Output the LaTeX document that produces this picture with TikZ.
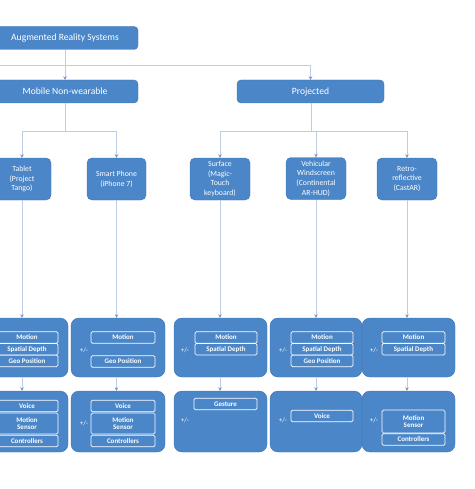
\documentclass[tikz,border=0pt]{standalone}
\usepackage{fontspec}
\setmainfont{Carlito}
\usetikzlibrary{arrows.meta}
\definecolor{nodefill}{HTML}{4A86C8}
\definecolor{nodeedge}{HTML}{3F74AE}
\definecolor{linec}{HTML}{BCCDE4}
\definecolor{tipc}{HTML}{7895BD}
\tikzset{
  hdr/.style={draw=nodeedge, fill=nodefill, rounded corners=4pt, text=white, font=\fontsize{9.6}{11}\selectfont, minimum height=23pt, inner sep=0pt},
  kid/.style={draw=nodeedge, fill=nodefill, rounded corners=5pt, text=white, font=\fontsize{7.8}{9.7}\selectfont, align=center, minimum height=42pt, inner sep=0pt},
  bigbox/.style={draw=nodeedge, fill=nodefill, rounded corners=8pt, minimum width=93pt, inner sep=0pt},
  ib/.style={draw=white, line width=0.7pt, rounded corners=1.5pt, text=white, font=\bfseries\fontsize{7}{7.6}\selectfont, align=center, minimum width=63pt, minimum height=11.6pt, inner sep=0pt},
  pm/.style={text=white, font=\fontsize{6.8}{7}\selectfont, inner sep=0pt},
  ln/.style={draw=linec, line width=0.8pt},
  arr/.style={ln, -{Stealth[length=3.5pt, width=3.5pt, color=tipc]}},
}
\begin{document}
\begin{tikzpicture}[x=1pt, y=-1pt]
\useasboundingbox (0,0) rectangle (474,489);
\clip (0,0) rectangle (474,489);
% level 0 / 1
\node[hdr, minimum width=146pt] (ars) at (65,38) {Augmented Reality Systems};
\node[hdr, minimum width=146pt] (mnw) at (65,91.5) {Mobile Non-wearable};
\node[hdr, minimum width=147pt] (proj) at (310.5,91.5) {Projected};
% level 2
\node[kid, minimum width=58pt] (tab) at (22,179) {Tablet\\(Project\\Tango)};
\node[kid, minimum width=59pt] (sp) at (116.5,179) {Smart Phone\\(iPhone 7)};
\node[kid, minimum width=60pt] (surf) at (220,179) {Surface\\(Magic-\\Touch\\keyboard)};
\node[kid, minimum width=60pt] (veh) at (316,178.5) {Vehicular\\Windscreen\\(Continental\\AR-HUD)};
\node[kid, minimum width=60pt] (retro) at (407,179) {Retro-\\reflective\\(CastAR)};
% connectors top
\coordinate (j0) at (0,65);
\coordinate (j1) at (ars.south |- j0);
\draw[ln] (ars.south) -- (j1);
\draw[arr] (j1) -- (mnw.north);
\draw[ln] (j0) -- (j1);
\draw[arr] (j1) -| (proj.north);
\coordinate (m1) at (65,131);
\draw[ln] (mnw.south) -- (m1);
\draw[arr] (m1) -| (tab.north);
\draw[arr] (m1) -| (sp.north);
\coordinate (p1) at (311,131);
\coordinate (p2) at (316,131);
\draw[ln] (proj.south -| p1) -- (p1);
\draw[arr] (p1) -| (surf.north);
\draw[arr] (p1) -| (retro.north);
\draw[arr] (p2) -- (veh.north);
% row 2 boxes
\node[bigbox, minimum height=59pt] (r2a) at (21.5,347.5) {};
\node[bigbox, minimum height=59pt, minimum width=94pt] (r2b) at (118,347.5) {};
\node[bigbox, minimum height=59pt] (r2c) at (220.5,347.5) {};
\node[bigbox, minimum height=59pt, minimum width=92pt] (r2d) at (316,347.5) {};
\node[bigbox, minimum height=59pt] (r2e) at (408.5,347.5) {};
% row 3 boxes
\node[bigbox, minimum height=61pt] (r3a) at (21.5,421.5) {};
\node[bigbox, minimum height=61pt, minimum width=94pt] (r3b) at (118,421.5) {};
\node[bigbox, minimum height=61pt] (r3c) at (220.5,421.5) {};
\node[bigbox, minimum height=61pt, minimum width=92pt] (r3d) at (316,421.5) {};
\node[bigbox, minimum height=61pt] (r3e) at (408.5,421.5) {};
% arrows level2 -> row2
\draw[arr] (tab.south) -- (tab.south |- r2a.north);
\draw[arr] (sp.south) -- (sp.south |- r2b.north);
\draw[arr] (surf.south) -- (surf.south |- r2c.north);
\draw[arr] (veh.south) -- (veh.south |- r2d.north);
\draw[arr] (retro.south) -- (retro.south |- r2e.north);
% arrows row2 -> row3
\draw[arr] (r2a.south -| tab.south) -- (r3a.north -| tab.south);
\draw[arr] (r2b.south -| sp.south) -- (r3b.north -| sp.south);
\draw[arr] (r2c.south -| surf.south) -- (r3c.north -| surf.south);
\draw[arr] (r2d.south -| veh.south) -- (r3d.north -| veh.south);
\draw[arr] (r2e.south -| retro.south) -- (r3e.north -| retro.south);
% row 2 contents
\node[ib, minimum width=62pt] (a1) at (27,337.5) {Motion};
\node[ib, minimum width=62pt] (a2) at (27,349.2) {Spatial Depth};
\node[ib, minimum width=62pt] (a3) at (27,360.9) {Geo Position};
\node[pm] (bp) at (84,350) {+/-};
\node[ib, minimum width=64pt] (b1) at (123,337.5) {Motion};
\node[ib, minimum width=64pt] (b3) at (123,361.5) {Geo Position};
\node[pm] (cp) at (185,350) {+/-};
\node[ib, minimum width=62pt] (c1) at (226,337.5) {Motion};
\node[ib, minimum width=62pt] (c2) at (226,349.2) {Spatial Depth};
\node[pm] (dp) at (283,350) {+/-};
\node[ib, minimum width=62pt] (d1) at (322,337.5) {Motion};
\node[ib, minimum width=62pt] (d2) at (322,349.2) {Spatial Depth};
\node[ib, minimum width=62pt] (d3) at (322,360.9) {Geo Position};
\node[pm] (ep) at (374,350) {+/-};
\node[ib, minimum width=63pt] (e1) at (413.5,337.5) {Motion};
\node[ib, minimum width=63pt] (e2) at (413.5,349.2) {Spatial Depth};
% row 3 contents
\node[ib, minimum width=62pt] (f1) at (27,406) {Voice};
\node[ib, minimum width=62pt, minimum height=21pt] (f2) at (27,423.5) {Motion\\Sensor};
\node[ib, minimum width=62pt] (f3) at (27,441) {Controllers};
\node[pm] (gp) at (84,423) {+/-};
\node[ib, minimum width=64pt] (g1) at (123,406) {Voice};
\node[ib, minimum width=64pt, minimum height=21pt] (g2) at (123,423.5) {Motion\\Sensor};
\node[ib, minimum width=64pt] (g3) at (123,441) {Controllers};
\node[pm] (hp) at (185,420) {+/-};
\node[ib, minimum width=63pt] (h1) at (225.5,404) {Gesture};
\node[pm] (ip) at (283,420) {+/-};
\node[ib, minimum width=62pt] (i1) at (322,416) {Voice};
\node[pm] (jp) at (374,420) {+/-};
\node[ib, minimum width=63pt, minimum height=23pt] (k1) at (413.5,421.5) {Motion\\Sensor};
\node[ib, minimum width=63pt] (k2) at (413.5,439.5) {Controllers};
\end{tikzpicture}
\end{document}
